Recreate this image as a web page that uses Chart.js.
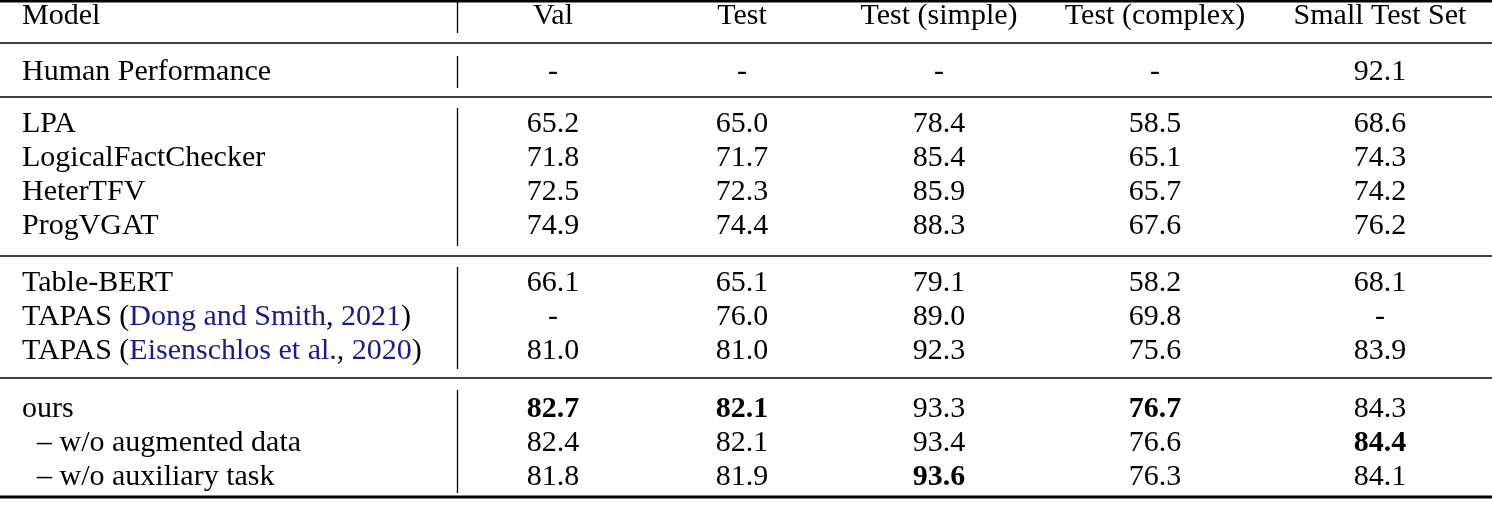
<!DOCTYPE html>
<html><head><meta charset="utf-8">
<script src="https://cdn.jsdelivr.net/npm/chart.js@4"></script>
<style>html,body{margin:0;padding:0;background:#fff}#w{width:1492px;height:505px}</style>
</head><body><div id="w"><canvas id="c"></canvas></div>
<script>
const columns = ["Model","Val","Test","Test (simple)","Test (complex)","Small Test Set"];
const models = [
  [["Human Performance",0]],
  [["LPA",0]],[["LogicalFactChecker",0]],[["HeterTFV",0]],[["ProgVGAT",0]],
  [["Table-BERT",0]],
  [["TAPAS (",0],["Dong and Smith",1],[", ",0],["2021",1],[")",0]],
  [["TAPAS (",0],["Eisenschlos et al.",1],[", ",0],["2020",1],[")",0]],
  [["ours",0]],[["  – w/o augmented data",0]],[["  – w/o auxiliary task",0]]
];
const valScores     = ["-","65.2","71.8","72.5","74.9","66.1","-","81.0","82.7","82.4","81.8"];
const testScores    = ["-","65.0","71.7","72.3","74.4","65.1","76.0","81.0","82.1","82.1","81.9"];
const simpleScores  = ["-","78.4","85.4","85.9","88.3","79.1","89.0","92.3","93.3","93.4","93.6"];
const complexScores = ["-","58.5","65.1","65.7","67.6","58.2","69.8","75.6","76.7","76.6","76.3"];
const smallScores   = ["92.1","68.6","74.3","74.2","76.2","68.1","-","83.9","84.3","84.4","84.1"];
// bold cells: [row, col]
const boldCells = [[8,1],[8,2],[8,4],[9,5],[10,3]];

// layout (positions in chart units)
const colX = [22,553,742,939,1155,1380];
const headerY = 16;
const rowY = [72,124,158,192,226,283,317,351,409,443,477];
const rules = [[1,3],[43,1.6],[97,1.6],[256,1.6],[378,1.6],[497,3]];
const sepX = 457;
const blocks=[[1,33],[56,88],[108,246],[267,369],[390,493]];
const scoreCols = [valScores,testScores,simpleScores,complexScores,smallScores];

const tablePlugin = {
  id:'table',
  afterDraw(chart){
    const {ctx, scales:{x,y}} = chart;
    ctx.save();
    ctx.textBaseline='middle';
    const font = b => (b?'bold ':'')+'30px "Liberation Serif", "DejaVu Serif", serif';
    ctx.strokeStyle='#000';
    rules.forEach(([ry,w])=>{
      ctx.lineWidth=w; ctx.beginPath();
      const py=y.getPixelForValue(ry);
      ctx.moveTo(x.getPixelForValue(0),py); ctx.lineTo(x.getPixelForValue(1492),py); ctx.stroke();
    });
    ctx.lineWidth=1.3;
    blocks.forEach(([a,b])=>{ctx.beginPath();const px=x.getPixelForValue(sepX)+0.5;ctx.moveTo(px,y.getPixelForValue(a));ctx.lineTo(px,y.getPixelForValue(b));ctx.stroke();});
    ctx.fillStyle='#000'; ctx.font=font(false);
    columns.forEach((c,i)=>{ctx.textAlign=i===0?'left':'center';ctx.fillText(c,x.getPixelForValue(colX[i]),y.getPixelForValue(headerY));});
    models.forEach((segs,r)=>{
      let px=x.getPixelForValue(colX[0]); const py=y.getPixelForValue(rowY[r]);
      ctx.textAlign='left'; ctx.font=font(false);
      segs.forEach(([t,link])=>{ctx.fillStyle=link?'#1a1a8c':'#000';ctx.fillText(t,px,py);px+=ctx.measureText(t).width;});
      scoreCols.forEach((arr,ci)=>{
        const b=boldCells.some(([br,bc])=>br===r&&bc===ci+1);
        ctx.font=font(b); ctx.fillStyle='#000'; ctx.textAlign='center';
        ctx.fillText(arr[r],x.getPixelForValue(colX[ci+1]),py);
      });
    });
    ctx.restore();
  }
};

new Chart(document.getElementById('c'),{
  type:'scatter',
  data:{datasets:[{data:rowY.map(v=>({x:colX[1],y:v})),pointRadius:0}]},
  options:{responsive:true,maintainAspectRatio:false,animation:false,
    layout:{padding:0},
    plugins:{legend:{display:false},tooltip:{enabled:false}},
    scales:{x:{type:'linear',min:0,max:1492,display:false},y:{type:'linear',min:0,max:505,reverse:true,display:false}}},
  plugins:[tablePlugin]
});
</script></body></html>
